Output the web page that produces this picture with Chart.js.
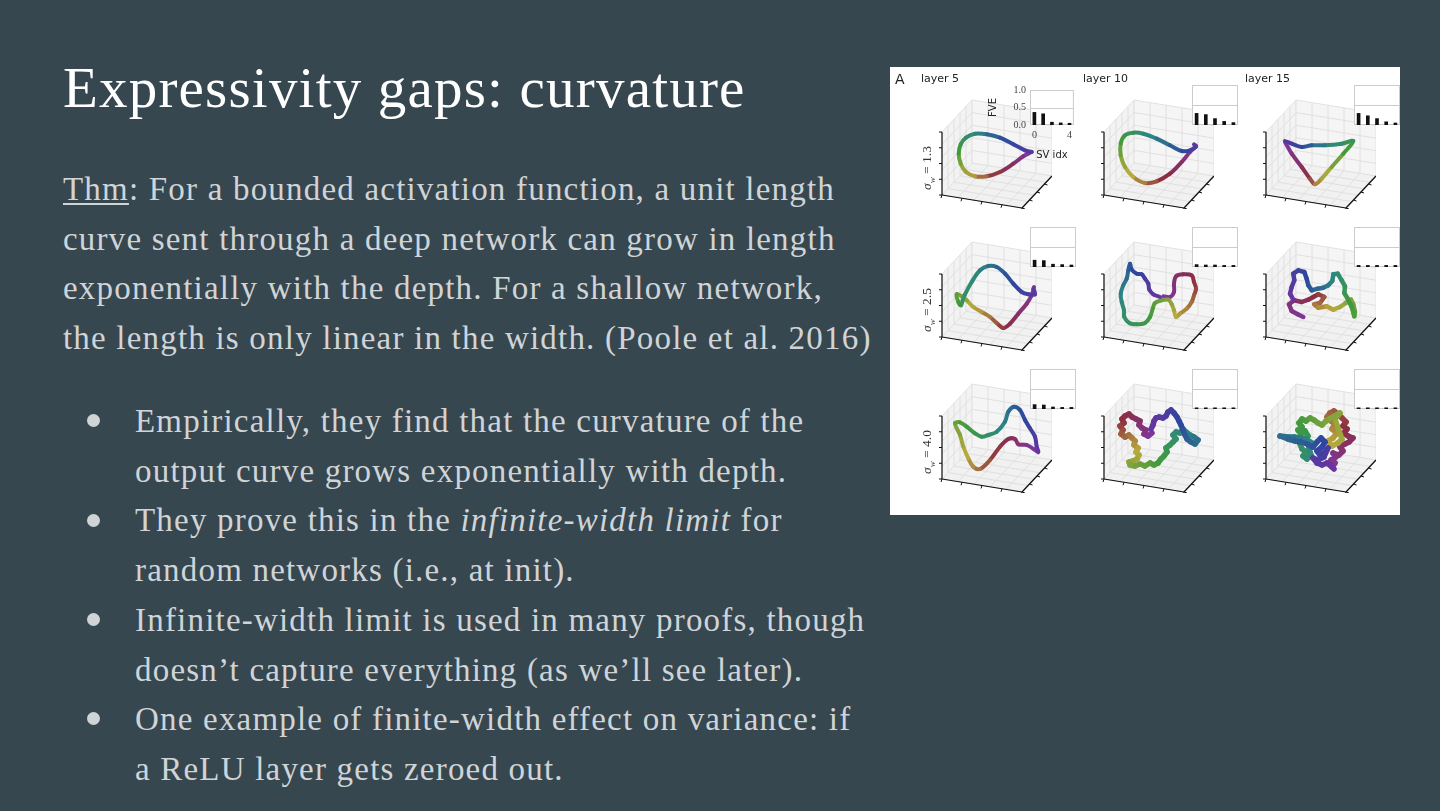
<!DOCTYPE html>
<html>
<head>
<meta charset="utf-8">
<script src="https://cdn.jsdelivr.net/npm/chart.js@4.4.0/dist/chart.umd.min.js"></script>
<style>
  body { margin: 0; width: 1440px; height: 811px; overflow: hidden; background: #37474f; position: relative; font-family: "Liberation Serif", serif; }
  .title { position: absolute; left: 63px; top: 59px; font-size: 57px; line-height: 57px; letter-spacing: 1.2px; color: #ffffff; white-space: nowrap; }
  .para { position: absolute; left: 63px; top: 165px; font-size: 33px; line-height: 49.7px; letter-spacing: 1.2px; color: #d0d4d7; white-space: nowrap; }
  .para u { text-decoration-thickness: 1.5px; text-underline-offset: 3px; }
  .bullets { position: absolute; left: 135px; top: 397px; font-size: 33px; line-height: 49.7px; letter-spacing: 1.2px; color: #d0d4d7; white-space: nowrap; }
  .dot { position: absolute; left: 87px; width: 13px; height: 13px; border-radius: 50%; background: #d0d4d7; }
  #fig { position: absolute; left: 890px; top: 67px; width: 510px; height: 448px; background: #ffffff; overflow: hidden; }
  #fig canvas { position: absolute; }
  .lbl { position: absolute; font-family: "DejaVu Sans", sans-serif; color: #222; white-space: nowrap; }
  .sig { position: absolute; font-family: "Liberation Serif", serif; font-size: 13.5px; color: #333; white-space: nowrap; transform: translate(-50%, -50%) rotate(-90deg); }
  .sig sub { font-size: 9px; font-style: italic; }
</style>
</head>
<body>
<div class="title">Expressivity gaps: curvature</div>
<div class="para">
  <div><u>Thm</u>: For a bounded activation function, a unit length</div>
  <div>curve sent through a deep network can grow in length</div>
  <div>exponentially with the depth. For a shallow network,</div>
  <div>the length is only linear in the width. (Poole et al. 2016)</div>
</div>
<div class="dot" style="top:414px"></div>
<div class="dot" style="top:514px"></div>
<div class="dot" style="top:613px"></div>
<div class="dot" style="top:712px"></div>
<div class="bullets">
  <div>Empirically, they find that the curvature of the</div>
  <div>output curve grows exponentially with depth.</div>
  <div>They prove this in the <i>infinite-width limit</i> for</div>
  <div>random networks (i.e., at init).</div>
  <div>Infinite-width limit is used in many proofs, though</div>
  <div>doesn’t capture everything (as we’ll see later).</div>
  <div>One example of finite-width effect on variance: if</div>
  <div>a ReLU layer gets zeroed out.</div>
</div>
<div id="fig"></div>

<script>
// column / row headings and inset axis
var layers = ['layer 5', 'layer 10', 'layer 15'];
var sigmas = ['1.3', '2.5', '4.0'];
var svIdx = ['0', '1', '2', '3', '4'];

// fraction of variance explained per singular vector (inset bars)
var fveL5S13 = [0.36, 0.32, 0.08, 0.06, 0.05];
var fveL10S13 = [0.29, 0.26, 0.16, 0.09, 0.06];
var fveL15S13 = [0.29, 0.23, 0.16, 0.08, 0.05];
var fveL5S25 = [0.17, 0.16, 0.07, 0.06, 0.05];
var fveL10S25 = [0.06, 0.05, 0.05, 0.04, 0.04];
var fveL15S25 = [0.04, 0.04, 0.04, 0.04, 0.04];
var fveL5S40 = [0.11, 0.10, 0.05, 0.04, 0.04];
var fveL10S40 = [0.03, 0.03, 0.03, 0.03, 0.03];
var fveL15S40 = [0.03, 0.03, 0.03, 0.03, 0.03];

// projected curve points (plane coords of each 3D panel)
var curveL5S13 = [[141.7,85],[133.3,89.3],[123.3,96.7],[110,105],[96.7,109.3],[85,109.3],[76,105],[70.7,96.7],[68.7,86.7],[70.7,77.3],[76,70.7],[85,66.7],[96.7,67.3],[110,70.7],[123.3,77.3],[135,83.3],[141.7,85]];
var curveL10S13 = [[144,79.3],[138,85],[129.7,95],[118,106.7],[104.7,114.3],[93,116],[81.3,110],[73,100],[68.7,88.3],[68.7,76.7],[73,68.3],[81.3,65.7],[91.3,66.7],[104.7,71.7],[118,78.3],[129.7,84],[138,83.3],[144,79.3],[142,77.3]];
var curveL15S13 = [[71,75],[77.7,86.7],[87.7,100],[96,111.7],[101,117.3],[107.7,111.7],[117.7,100],[129.3,86.7],[139.3,74],[127.7,76.7],[111,78.3],[97.7,78.3],[87.7,80],[77.7,76.7],[71,74]];
var curveL5S25 = [[144,78],[141.7,86.3],[136.7,94.7],[128.3,104.7],[120,114.7],[113.3,119],[106.7,114],[100,108],[91.7,103],[83.3,98],[76.7,91.3],[71.7,87.3],[66.7,85.3],[68.3,93],[71,96.3],[72.7,91.3],[75,85.3],[81.7,73],[90,61.3],[98.3,57],[106.7,58],[115,64.7],[123.3,74.7],[131.7,83],[138.3,85.3],[145,85.3],[143.3,79.7]];
var curveL10S25 = [[111.3,87.3],[118,88],[122,83],[122,74.7],[124,67.3],[131.3,65.3],[139.7,66.3],[142,73],[144,79.7],[142,86.3],[139.7,93],[134.7,99.7],[128,104.7],[124,108],[122,101.3],[119.7,95.3],[116.3,90.7],[109.7,91.3],[103,94],[100.7,99.7],[98,108],[93,114],[84.7,115.3],[77.3,114],[72.3,108],[72,101.3],[69.7,93],[68.7,84.7],[71.3,76.3],[74.7,69.7],[76.3,61.3],[78,54.7],[79.7,60.7],[84.7,64.7],[89.7,65.3],[93,69.7],[96.3,74.7],[97.3,80.7],[101.3,85.3],[108,88]];
var curveL15S25 = [[89.3,108],[83.7,105.3],[77.7,102],[75,95.3],[80.3,91.3],[87.7,93],[94.3,90.7],[99.3,88],[104.3,85.3],[110.3,88],[106,94],[100.3,95.3],[104.3,98.7],[112.7,97.3],[119.3,100.7],[126,98],[131.7,94],[137,90.7],[139.3,95.3],[141,103],[140.3,107.3],[137.7,98],[133.7,89.7],[130.3,84],[131,77.3],[127.7,71.3],[123.7,64.7],[119.3,65.3],[118.3,72],[114.3,76.3],[109.3,78.7],[103.7,79.7],[97.7,81.3],[94.3,76.3],[92.7,69.7],[90.3,63],[84.3,61.3],[79.3,64.7],[80.3,71.3],[77.7,78],[76,84.7],[79.3,90.7]];
var curveL5S40 = [[148.3,101.3],[136.7,94],[128.3,93.3],[125,88],[118.3,88],[110,95.7],[100,109],[90,118],[83.3,115.7],[78.3,107.3],[73.3,95.7],[70,84],[65,72.3],[70,71.3],[76.7,75.7],[85,82.3],[91.7,85.7],[98.3,84],[106.7,80.7],[115,70.7],[118.3,60.7],[124,55.7],[130,59],[135,69],[140,77.3],[145,85.7],[146.7,95.7],[148.3,100]];
var curveL10S40 = [[100,82],[96,85],[92,83],[94,79],[90,77],[87,74],[88,70],[84,68],[80,66],[77,63],[73,65],[70,68],[72,72],[68,75],[71,79],[69,83],[73,86],[77,84],[80,87],[83,90],[82,94],[86,97],[84,101],[87,104],[85,108],[81,110],[77,111],[78,114],[83,115],[88,113],[93,115],[98,112],[102,114],[106,112],[109,108],[112,105],[115,101],[114,97],[118,94],[121,91],[124,88],[121,84],[124,81],[128,82],[131,78],[134,81],[138,84],[142,86],[146,89],[143,93],[139,91],[135,88],[133,84],[131,79],[129,74],[127,70],[125,66],[122,62],[119,59],[116,61],[114,65],[111,67],[107,66],[104,67],[102,70],[101,74],[99,78]];
var curveL15S40 = [[118,116],[121,112],[117,109],[122,106],[119,102],[125,104],[129,100],[126,96],[131,93],[135,91],[139,87],[134,85],[130,82],[133,78],[129,75],[132,71],[128,67],[124,63],[120,60],[116,62],[113,66],[117,70],[121,73],[118,78],[123,82],[119,87],[114,90],[118,95],[124,92],[128,88],[125,80],[121,68],[126,62],[112,70],[108,74],[104,72],[100,69],[96,67],[92,70],[88,68],[85,72],[88,76],[84,79],[87,83],[91,80],[94,85],[90,89],[86,93],[88,98],[92,101],[89,105],[93,108],[97,104],[95,97],[98,92],[92,88],[86,87],[80,86],[74,86],[66,85],[74,88],[81,90],[87,91],[93,93],[99,96],[103,91],[107,87],[111,91],[108,96],[103,100],[106,104],[111,101],[114,97],[110,106],[104,109],[99,107],[103,112],[108,114],[113,112],[117,115],[120,118]];

var curves = [
  [curveL5S13, curveL10S13, curveL15S13],
  [curveL5S25, curveL10S25, curveL15S25],
  [curveL5S40, curveL10S40, curveL15S40]
];
var fves = [
  [fveL5S13, fveL10S13, fveL15S13],
  [fveL5S25, fveL10S25, fveL15S25],
  [fveL5S40, fveL10S40, fveL15S40]
];

Chart.defaults.font.family = '"DejaVu Sans", sans-serif';
Chart.defaults.animation = false;

// cyclic colour map along the curve
var cmapStops = [
  [0.00, [125, 55, 155]],
  [0.17, [140, 45, 65]],
  [0.33, [185, 170, 60]],
  [0.50, [65, 155, 60]],
  [0.67, [45, 135, 130]],
  [0.83, [45, 70, 160]],
  [1.00, [110, 50, 160]]
];
function cmap(t) {
  for (var i = 1; i < cmapStops.length; i++) {
    if (t <= cmapStops[i][0]) {
      var a = cmapStops[i - 1], b = cmapStops[i];
      var f = (t - a[0]) / (b[0] - a[0]);
      var rgb = a[1].map(function (v, k) { return Math.round(v + (b[1][k] - v) * f); });
      return 'rgb(' + rgb.join(',') + ')';
    }
  }
  return 'rgb(' + cmapStops[cmapStops.length - 1][1].join(',') + ')';
}

// 3D pane geometry in panel plane coords
var BOX = { o: [82, 96], e1: [-30, 32], e2: [80, 13], h: 63 };
var gridT = [0.2, 0.4, 0.6, 0.8];

var box3d = {
  id: 'box3d',
  beforeDatasetsDraw: function (chart) {
    var c = chart.ctx, sx = chart.scales.x, sy = chart.scales.y;
    function P(u, v, w) {
      var x = BOX.o[0] + BOX.e1[0] * u + BOX.e2[0] * v;
      var y = BOX.o[1] + BOX.e1[1] * u + BOX.e2[1] * v - BOX.h * w;
      return [sx.getPixelForValue(x), sy.getPixelForValue(y)];
    }
    function poly(pts, fill, stroke) {
      c.beginPath();
      pts.forEach(function (p, i) { if (i) c.lineTo(p[0], p[1]); else c.moveTo(p[0], p[1]); });
      c.closePath();
      c.fillStyle = fill; c.fill();
      c.strokeStyle = stroke; c.lineWidth = 1; c.stroke();
    }
    function seg(a, b, col, lw) {
      c.beginPath(); c.moveTo(a[0], a[1]); c.lineTo(b[0], b[1]);
      c.strokeStyle = col; c.lineWidth = lw; c.stroke();
    }
    c.save();
    poly([P(0,0,0), P(1,0,0), P(1,0,1), P(0,0,1)], '#f3f3f3', '#e2e2e2');
    poly([P(0,0,0), P(0,1,0), P(0,1,1), P(0,0,1)], '#f5f5f5', '#e2e2e2');
    poly([P(0,0,0), P(1,0,0), P(1,1,0), P(0,1,0)], '#f1f1f1', '#e2e2e2');
    var g = '#e0e0e0';
    gridT.forEach(function (t) {
      seg(P(t,0,0), P(t,0,1), g, 1); seg(P(0,0,t), P(1,0,t), g, 1);
      seg(P(0,t,0), P(0,t,1), g, 1); seg(P(0,0,t), P(0,1,t), g, 1);
      seg(P(t,0,0), P(t,1,0), g, 1); seg(P(0,t,0), P(1,t,0), g, 1);
    });
    var k = '#111';
    seg(P(1,0,0), P(1,0,1), k, 1.2);
    seg(P(1,0,0), P(1,1,0), k, 1.2);
    seg(P(1,1,0), P(0,1,0), k, 1.2);
    [0, 0.25, 0.5, 0.75, 1].forEach(function (t) {
      var a = P(1,0,t); seg(a, [a[0] - 3, a[1]], k, 1);
      var b = P(1,t,0); seg(b, [b[0] - 1, b[1] + 3], k, 1);
      var d = P(1 - t,1,0); seg(d, [d[0] + 3, d[1] + 1], k, 1);
    });
    c.restore();
  }
};

var insetFrame = {
  id: 'insetFrame',
  beforeDatasetsDraw: function (chart) {
    var c = chart.ctx, a = chart.chartArea, sy = chart.scales.y;
    c.save();
    c.fillStyle = '#ffffff';
    c.fillRect(a.left, a.top, a.right - a.left, a.bottom - a.top);
    c.strokeStyle = '#cccccc'; c.lineWidth = 1;
    var ym = Math.round(sy.getPixelForValue(0.5)) + 0.5;
    c.beginPath(); c.moveTo(a.left, ym); c.lineTo(a.right, ym); c.stroke();
    c.strokeRect(a.left + 0.5, a.top + 0.5, a.right - a.left - 1, a.bottom - a.top - 1);
    c.restore();
  }
};

var fig = document.getElementById('fig');
var cellW = 162, cellH = 142;

function addCanvas(left, top, w, h) {
  var cv = document.createElement('canvas');
  cv.width = w; cv.height = h;
  cv.style.left = left + 'px'; cv.style.top = top + 'px';
  cv.style.width = w + 'px'; cv.style.height = h + 'px';
  fig.appendChild(cv);
  return cv;
}

function drawCell(r, c) {
  var pts = curves[r][c];
  var n = pts.length;
  var noisy = (r + c) >= 3;
  var dense = (r === 2 && c > 0);
  var cv = addCanvas(c * cellW, r * cellH, cellW, cellH);
  new Chart(cv, {
    type: 'scatter',
    data: {
      datasets: [{
        data: pts.map(function (p) { return { x: p[0], y: p[1] }; }),
        showLine: true,
        pointRadius: 0,
        borderWidth: dense ? 5.5 : (noisy ? 4.5 : 4),
        borderCapStyle: 'round',
        borderJoinStyle: 'round',
        tension: noisy ? 0 : 0.35,
        clip: false,
        segment: { borderColor: function (ctx) { return cmap(ctx.p0DataIndex / (n - 1)); } }
      }]
    },
    options: {
      responsive: false,
      events: [],
      plugins: { legend: { display: false }, tooltip: { enabled: false } },
      scales: {
        x: { type: 'linear', min: 0, max: cellW, display: false },
        y: { type: 'linear', min: 0, max: cellH, reverse: true, display: false }
      }
    },
    plugins: [box3d]
  });
}

function drawInset(r, c) {
  var labelled = (r === 0 && c === 0);
  var left = c * cellW + 140, top = r * cellH + 18;
  var w = 46, h = 40;
  var cv = labelled ? addCanvas(left - 45, top - 5, w + 45, h + 41) : addCanvas(left, top, w, h);
  new Chart(cv, {
    type: 'bar',
    data: {
      labels: svIdx,
      datasets: [{ data: fves[r][c], backgroundColor: '#111', barThickness: 3 }]
    },
    options: {
      responsive: false,
      events: [],
      layout: { padding: labelled ? { top: 5 } : 0 },
      plugins: { legend: { display: false }, tooltip: { enabled: false } },
      scales: {
        x: {
          display: labelled,
          grid: { display: false, drawTicks: false }, border: { display: false },
          ticks: {
            autoSkip: false, maxRotation: 0, padding: 4,
            font: { family: '"Liberation Serif", serif', size: 10 }, color: '#444',
            callback: function (v, i) { return (i === 0 || i === 4) ? svIdx[i] : ''; }
          },
          title: { display: true, text: 'SV idx', font: { size: 10 }, color: '#222', padding: { top: 5, bottom: 0 } },
          afterFit: function (s) { if (labelled) s.height = 36; }
        },
        y: {
          display: labelled, min: 0, max: 1,
          grid: { display: false, drawTicks: false }, border: { display: false },
          ticks: {
            stepSize: 0.5, padding: 4,
            font: { family: '"Liberation Serif", serif', size: 10 }, color: '#444',
            callback: function (v) { return v.toFixed(1); }
          },
          title: { display: true, text: 'FVE', font: { size: 10 }, color: '#222', padding: { top: 2, bottom: 2 } },
          afterFit: function (s) { if (labelled) s.width = 45; }
        }
      }
    },
    plugins: [insetFrame]
  });
}

for (var r = 0; r < 3; r++) {
  for (var c = 0; c < 3; c++) drawCell(r, c);
}
for (var r2 = 0; r2 < 3; r2++) {
  for (var c2 = 0; c2 < 3; c2++) drawInset(r2, c2);
}

// panel letter, column titles and row labels
function addLabel(cls, html, left, top, size) {
  var d = document.createElement('div');
  d.className = cls; d.innerHTML = html;
  d.style.left = left + 'px'; d.style.top = top + 'px';
  if (size) d.style.fontSize = size + 'px';
  fig.appendChild(d);
}
addLabel('lbl', 'A', 5, 4, 14);
layers.forEach(function (t, i) { addLabel('lbl', t, 31 + i * cellW, 5, 11); });
sigmas.forEach(function (s, i) {
  addLabel('sig', '<i>σ</i><sub>w</sub> = ' + s, 38, 101 + i * cellH);
});
</script>
</body>
</html>
